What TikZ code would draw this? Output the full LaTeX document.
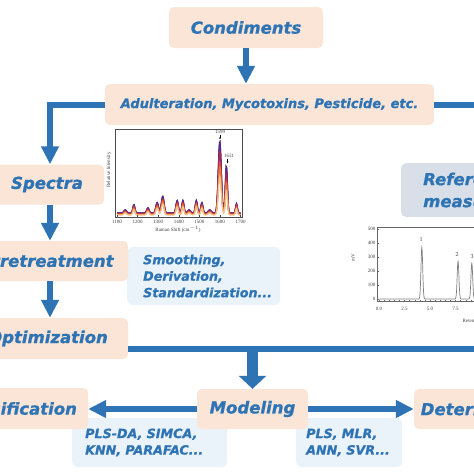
\documentclass[tikz,border=0pt]{standalone}
\usepackage{fontspec}
\setmainfont{Liberation Serif}
\newfontfamily\boxfont{DejaVu Sans}[BoldFont={DejaVu Sans Bold},BoldItalicFont={DejaVu Sans Bold Oblique},BoldItalicFeatures={FakeBold=1}]
\usetikzlibrary{arrows.meta}
\definecolor{peach}{HTML}{FBE5D6}
\definecolor{paleblue}{HTML}{EAF2FA}
\definecolor{refgray}{HTML}{D9DFE8}
\definecolor{flowblue}{HTML}{2E74B5}
\definecolor{rdark}{HTML}{5A0C2E}
\definecolor{rred}{HTML}{B02A45}
\definecolor{rpurple}{HTML}{4A2CA0}
\definecolor{rblue}{HTML}{3A2FC0}
\definecolor{rorange}{HTML}{E27A3C}
\definecolor{rlight}{HTML}{F4C48A}

\begin{document}
\begin{tikzpicture}[x=1pt,y=-1pt,
  declare function={g(\t,\m,\s)=exp(-min(abs(\t-\m)/\s,8)*min(abs(\t-\m)/\s,8));
    sp(\t,\p)=3*g(\t,1140,9)+8*g(\t,1182,7)+5*g(\t,1250,8)+10*g(\t,1295,9)+16*g(\t,1322,9)
      +12*g(\t,1392,8)+12*g(\t,1420,7)+3*g(\t,1450,10)+12*g(\t,1485,7)+10*g(\t,1512,7)
      +3*g(\t,1550,10)+\p*(70*g(\t,1599,10)+46*g(\t,1631,7))+9*g(\t,1680,6);
    chrom(\t)=370*g(\t,4.2,0.12)+270*g(\t,7.75,0.12)+255*g(\t,9.1,0.12);},
  stage/.style={fill=peach,rounded corners=5pt,inner sep=0pt,text=flowblue,
    font=\boxfont\bfseries\itshape\fontsize{16.5}{22}\selectfont},
  method/.style={fill=paleblue,rounded corners=6pt,anchor=west,text=flowblue,align=left,
    font=\boxfont\bfseries\itshape\fontsize{12.7}{16.5}\selectfont},
  flow/.style={flowblue,line width=6pt,-{Triangle[width=17pt,length=18pt]}},
  bigflow/.style={flowblue,line width=11pt,-{Triangle[width=27pt,length=13pt]}},
  tiny/.style={font=\fontsize{5}{6}\selectfont,text=black!75,inner sep=0.5pt}]

\useasboundingbox (0,0) rectangle (474,474);
\clip (0,0) rectangle (474,474);
\fill[white] (0,0) rectangle (474,474);

% Raman spectra
\fill[white] (115,129) rectangle (242,217);
\foreach \a/\b/\d/\c in {1.05/0.98/0/rdark,1.02/0.94/0.5/rblue,0.98/1.03/0/rpurple,0.93/0.97/0.8/rred,
    0.86/0.85/1.2/rorange!60!red,0.78/0.88/1.6/rorange,0.68/0.80/2/rlight}
  \draw[\c,line width=1.2pt] plot[domain=1100:1700,samples=241]
    ({117+0.206*(\x-1100)},{213+\d-\a*sp(\x,\b)});
\draw[black!70,line width=0.5pt] (115,129) rectangle (242,217);
\foreach \w in {1100,1200,...,1700} {
  \draw[black!70,line width=0.4pt] ({117+0.206*(\w-1100)},217) -- +(0,-2);
  \node[tiny] at ({117+0.206*(\w-1100)},222) {\w};
}
\node[tiny] at (178,229) {Raman Shift (cm$^{-1}$)};
\node[tiny,rotate=90] at (109,170) {Relative Intensity};
\node[tiny] at (220,132) {1599};
\node[tiny] at (229,156) {1631};
\draw[black,line width=0.6pt,-{Latex[length=2pt,width=2pt]}] (220,135) -- (220,139.5);
\draw[black,line width=0.6pt,-{Latex[length=2pt,width=2pt]}] (227.5,159) -- (227.5,163.5);

% chromatogram
\draw[black!60,line width=0.5pt] (377,227) rectangle (490,301);
\draw[gray,line width=0.7pt] plot[domain=0:10,samples=501] ({379+10.2*\x},{299-0.14*chrom(\x)});
\foreach \v in {0,100,...,500} {
  \draw[black!60,line width=0.4pt] (377,{299-0.14*\v}) -- +(2,0);
  \node[tiny,anchor=east] at (376,{299-0.14*\v}) {\v};
}
\foreach \t in {0,0.5,...,10}
  \draw[black!60,line width=0.3pt] ({379+10.2*\t},301) -- +(0,-1.2);
\foreach \t in {0.0,2.5,5.0,7.5}
  \node[tiny] at ({379+10.2*\t},309) {\t};
\node[tiny,anchor=west] at (462,321) {Retention time (min)};
\node[tiny,rotate=90] at (353,258) {mV};
\node[tiny,font=\fontsize{6}{7}\selectfont] at (421,240) {1};
\node[tiny,font=\fontsize{6}{7}\selectfont] at (457,255) {2};
\node[tiny,font=\fontsize{6}{7}\selectfont] at (472,257) {3};

% method boxes
\node[method,inner xsep=16pt,text width=121pt,minimum height=58pt] (smooth) at (127,276)
  {Smoothing,\\Derivation,\\Standardization...};
\node[method,inner xsep=13pt,text width=129pt,minimum height=49pt] (plsda) at (72,442.5)
  {PLS-DA, SIMCA,\\KNN, PARAFAC...};
\node[method,inner xsep=10pt,text width=86pt,minimum height=49pt] (pls) at (296,442.5)
  {PLS, MLR,\\ANN, SVR...};

% stages
\node[stage,minimum width=154pt,minimum height=41pt] (cond) at (246,27.5) {Condiments};
\node[stage,minimum width=329pt,minimum height=41pt,font=\boxfont\bfseries\itshape\fontsize{13}{16}\selectfont]
  (adult) at (269.5,104.5) {Adulteration, Mycotoxins, Pesticide, etc.};
\node[stage,minimum width=114pt,minimum height=40pt] (spectra) at (47,184.5) {Spectra};
\node[stage,minimum width=154pt,minimum height=40pt] (pretreat) at (51,261) {Pretreatment};
\node[stage,minimum width=160pt,minimum height=41pt] (optim) at (48,338.5) {Optimization};
\node[stage,minimum width=147pt,minimum height=41pt] (classif) at (14.5,408.5) {Classification};
\node[stage,minimum width=111pt,minimum height=40pt] (modeling) at (252.5,409) {Modeling};
\node[stage,minimum width=148pt,minimum height=40pt] (determ) at (488,409) {Determination};
\node[stage,fill=refgray,anchor=west,inner xsep=22pt,text width=116pt,align=left,minimum height=54pt]
  (refmeas) at (401,190) {Reference\\measurement};

\coordinate (lane) at (50,0);
\coordinate (rightA) at (480,104.5);
\coordinate (rightB) at (480,349);

\draw[flow] (cond.south) -- (cond.south |- adult.north);
\draw[flow] (adult.west) -| (spectra.north -| lane);
\draw[flowblue,line width=6pt] (adult.east) -- (rightA);
\draw[flow] (spectra.south -| lane) -- (pretreat.north -| lane);
\draw[flow] (pretreat.south -| lane) -- (optim.north -| lane);
\draw[flowblue,line width=6pt] (optim.east |- rightB) -- (rightB);
\draw[bigflow] (modeling.north |- rightB) -- (modeling.north);
\draw[flow] (modeling.west) -- (classif.east |- modeling.west);
\draw[flow] (modeling.east) -- (determ.west |- modeling.east);
\end{tikzpicture}
\end{document}
